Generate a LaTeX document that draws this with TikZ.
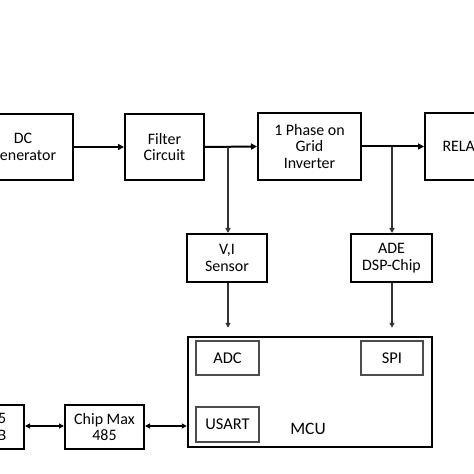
\documentclass[tikz,border=0pt]{standalone}
\usepackage{fontspec}
\setmainfont{Carlito}
\usetikzlibrary{arrows.meta}
\begin{document}
\begin{tikzpicture}[x=1bp,y=-1bp,
  blk/.style={draw=black,line width=2bp,minimum width=#1,align=center,inner sep=0pt,
    font=\fontsize{16}{17}\selectfont},
  inner/.style={draw=black!70,line width=1.8bp,align=center,inner sep=0pt,
    font=\fontsize{16.5}{17}\selectfont},
  harr/.style={line width=2bp,-{Triangle[length=6bp,width=6bp]}},
  darr/.style={line width=1.5bp,{Triangle[length=5bp,width=5bp]}-{Triangle[length=5bp,width=5bp]}},
  varr/.style={draw=black!80,line width=1.5bp,-{Triangle[length=5bp,width=5bp]}}]
\useasboundingbox (0,0) rectangle (474,474);
\fill[white] (0,0) rectangle (474,474);
% top row
\node[blk=100bp,minimum height=66bp] (dc) at (23,147) {DC\\Generator};
\node[blk=79bp,minimum height=66bp] (filter) at (164.5,147) {Filter\\Circuit};
\node[blk=103bp,minimum height=67bp] (inv) at (309.5,146.5) {1 Phase on\\Grid\\Inverter};
\node[blk=74bp,minimum height=67bp] (relay) at (462,146.5) {RELAY};
% sensors
\node[blk=80bp,minimum height=48bp] (vi) at (227,258) {V,I\\Sensor};
\node[blk=81bp,minimum height=48bp] (ade) at (391.5,258) {ADE\\DSP-Chip};
% MCU
\node[draw=black,line width=2.5bp,minimum width=244bp,minimum height=110bp,inner sep=0pt] (mcu) at (310,392) {};
\node[inner,minimum width=63bp,minimum height=34bp] (adc) at (227.5,358) {ADC};
\node[inner,minimum width=62bp,minimum height=34bp] (spi) at (392,358) {SPI};
\node[inner,minimum width=63bp,minimum height=35bp] (usart) at (227.5,424.5) {USART};
\node[font=\fontsize{17.5}{18}\selectfont,inner sep=0pt] (mculbl) at (308,429) {MCU};
% bottom row
\node[blk=79bp,minimum height=44bp] (chip) at (104.5,427) {Chip Max\\485};
\node[blk=79bp,minimum height=44bp] (rs) at (-15.5,427) {RS 485\\to USB};
% connectors
\coordinate (b1) at (228,147);
\coordinate (b2) at (392,147);
\draw[harr] (dc.east) -- (filter.west);
\draw[harr] (filter.east) -- (inv.west);
\draw[harr] (inv.east) -- (relay.west);
\draw[varr] (b1) -- (b1 |- vi.north);
\draw[varr] (b2) -- (b2 |- ade.north);
\draw[varr,shorten >=8bp] (b1 |- vi.south) -- (b1 |- mcu.north);
\draw[varr,shorten >=8bp] (b2 |- ade.south) -- (b2 |- mcu.north);
\draw[darr] ([yshift=1bp]rs.east) -- ([yshift=1bp]chip.west);
\draw[darr] ([yshift=1bp]chip.east) -- ([yshift=1bp]chip.east -| mcu.west);
\end{tikzpicture}
\end{document}
